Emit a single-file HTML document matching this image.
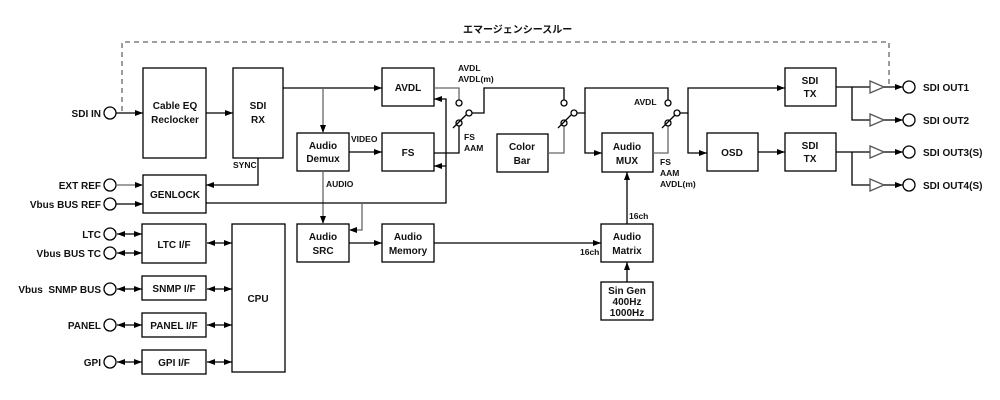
<!DOCTYPE html>
<html><head><meta charset="utf-8"><style>
html,body{margin:0;padding:0;background:#fff;}
svg{display:block;}
text{font-family:"Liberation Sans","Noto Sans CJK JP",sans-serif;font-size:10px;font-weight:bold;fill:#111;}
.s{font-size:8.5px;}
</style></head><body>
<svg width="1000" height="400" viewBox="0 0 1000 400" xmlns="http://www.w3.org/2000/svg">
<defs>
<marker id="a" markerWidth="8" markerHeight="6" refX="8" refY="3" orient="auto" markerUnits="userSpaceOnUse"><path d="M0,0 L8,3 L0,6 z" fill="#000"/></marker>
<marker id="b" markerWidth="8" markerHeight="6" refX="0" refY="3" orient="auto" markerUnits="userSpaceOnUse"><path d="M8,0 L0,3 L8,6 z" fill="#000"/></marker>
</defs>
<g fill="none" stroke="#000" stroke-width="1.3">
<path d="M122,111 V42 H889 V84" stroke="#666" stroke-dasharray="5,4"/>
<rect x="143" y="68" width="63" height="90"/>
<rect x="233" y="68" width="50" height="90"/>
<rect x="382" y="68" width="52" height="38"/>
<rect x="297" y="133" width="52" height="38"/>
<rect x="382" y="133" width="52" height="38"/>
<rect x="143" y="175" width="63" height="38"/>
<rect x="497" y="134" width="51" height="38"/>
<rect x="602" y="133" width="51" height="39"/>
<rect x="707" y="133" width="51" height="38"/>
<rect x="785" y="68" width="51" height="38"/>
<rect x="785" y="133" width="51" height="38"/>
<rect x="142" y="224" width="64" height="39"/>
<rect x="142" y="276" width="64" height="24"/>
<rect x="142" y="313" width="64" height="24"/>
<rect x="142" y="350" width="64" height="24"/>
<rect x="232" y="224" width="53" height="148"/>
<rect x="297" y="224" width="52" height="38"/>
<rect x="382" y="224" width="52" height="38"/>
<rect x="601" y="224" width="52" height="38"/>
<rect x="601" y="282" width="52" height="38"/>
<circle cx="110" cy="113" r="6"/>
<circle cx="110" cy="185" r="6"/>
<circle cx="110" cy="204" r="6"/>
<circle cx="110" cy="234" r="6"/>
<circle cx="110" cy="253" r="6"/>
<circle cx="110" cy="289" r="6"/>
<circle cx="110" cy="325" r="6"/>
<circle cx="110" cy="362" r="6"/>
<circle cx="909" cy="87" r="6"/>
<circle cx="909" cy="120" r="6"/>
<circle cx="909" cy="152" r="6"/>
<circle cx="909" cy="185" r="6"/>
<path d="M116,113 H143" marker-end="url(#a)"/>
<path d="M206,113 H233" marker-end="url(#a)"/>
<path d="M283,88 H382" marker-end="url(#a)"/>
<path d="M323,88 V133" stroke="#666" marker-end="url(#a)"/>
<path d="M323,171 V224" stroke="#666" marker-end="url(#a)"/>
<path d="M349,152 H382" marker-end="url(#a)"/>
<path d="M258,158 V185 H206" marker-end="url(#a)"/>
<path d="M116,185 H143" stroke="#666" marker-end="url(#a)"/>
<path d="M116,204 H143" marker-end="url(#a)"/>
<path d="M206,203 H446 V99 H434" marker-end="url(#a)"/>
<path d="M446,166 H434" marker-end="url(#a)"/>
<path d="M362,203 V230 H349" stroke="#666" marker-end="url(#a)"/>
<path d="M434,88 H459 V100" stroke="#666"/>
<path d="M434,153 H459 V126" />
<circle cx="459" cy="103" r="3"/><circle cx="469" cy="113" r="3"/><circle cx="459" cy="123" r="3"/>
<path d="M453,128 L466,115"/>
<path d="M472,113 H484 V88 H564 V100"/>
<path d="M548,153 H564 V126" stroke="#666"/>
<circle cx="564" cy="103" r="3"/><circle cx="574" cy="113" r="3"/><circle cx="564" cy="123" r="3"/>
<path d="M558,128 L571,115"/>
<path d="M577,113 H585 V88 H668 V100"/>
<path d="M585,113 V153 H602" marker-end="url(#a)"/>
<path d="M653,153 H668 V126" stroke="#666"/>
<circle cx="668" cy="103" r="3"/><circle cx="677" cy="113" r="3"/><circle cx="668" cy="123" r="3"/>
<path d="M662,128 L675,115"/>
<path d="M680,113 H688 V88 H785" marker-end="url(#a)"/>
<path d="M688,113 V153 H707" marker-end="url(#a)"/>
<path d="M758,152 H785" marker-end="url(#a)"/>
<path d="M836,87 H870 M852,87 V120 H870" />
<path d="M836,152 H870 M852,152 V185 H870" />
<path d="M870,81 L884,87 L870,93 z M870,114 L884,120 L870,126 z M870,146 L884,152 L870,158 z M870,179 L884,185 L870,191 z" stroke="#555"/>
<path d="M884,87 H903" marker-end="url(#a)"/>
<path d="M884,120 H903" marker-end="url(#a)"/>
<path d="M884,152 H903" marker-end="url(#a)"/>
<path d="M884,185 H903" marker-end="url(#a)"/>
<path d="M349,243 H382" marker-end="url(#a)"/>
<path d="M434,243 H601" marker-end="url(#a)"/>
<path d="M627,224 V172" marker-end="url(#a)"/>
<path d="M627,282 V262" marker-end="url(#a)"/>
<path d="M117,234 H142" marker-start="url(#b)" marker-end="url(#a)"/>
<path d="M117,253 H142" marker-start="url(#b)" marker-end="url(#a)"/>
<path d="M117,289 H142" marker-start="url(#b)" marker-end="url(#a)"/>
<path d="M117,325 H142" marker-start="url(#b)" marker-end="url(#a)"/>
<path d="M117,362 H142" marker-start="url(#b)" marker-end="url(#a)"/>
<path d="M207,243 H232" marker-start="url(#b)" marker-end="url(#a)"/>
<path d="M207,289 H232" marker-start="url(#b)" marker-end="url(#a)"/>
<path d="M207,325 H232" marker-start="url(#b)" marker-end="url(#a)"/>
<path d="M207,362 H232" marker-start="url(#b)" marker-end="url(#a)"/>
</g>
<g text-anchor="middle">
<text x="175" y="109">Cable EQ</text><text x="175" y="123">Reclocker</text>
<text x="258" y="109">SDI</text><text x="258" y="123">RX</text>
<text x="408" y="91">AVDL</text>
<text x="323" y="149">Audio</text><text x="323" y="162">Demux</text>
<text x="408" y="156">FS</text>
<text x="175" y="198">GENLOCK</text>
<text x="522" y="150">Color</text><text x="522" y="164">Bar</text>
<text x="627" y="150">Audio</text><text x="627" y="164">MUX</text>
<text x="732" y="156">OSD</text>
<text x="810" y="84">SDI</text><text x="810" y="97">TX</text>
<text x="810" y="149">SDI</text><text x="810" y="162">TX</text>
<text x="174" y="248">LTC I/F</text>
<text x="174" y="292">SNMP I/F</text>
<text x="174" y="329">PANEL I/F</text>
<text x="174" y="366">GPI I/F</text>
<text x="258" y="302">CPU</text>
<text x="323" y="240">Audio</text><text x="323" y="254">SRC</text>
<text x="408" y="240">Audio</text><text x="408" y="254">Memory</text>
<text x="627" y="240">Audio</text><text x="627" y="254">Matrix</text>
<text x="627" y="294">Sin Gen</text><text x="627" y="305">400Hz</text><text x="627" y="316">1000Hz</text>
</g>
<g text-anchor="end">
<text x="101" y="117">SDI IN</text>
<text x="101" y="189">EXT REF</text>
<text x="101" y="208">Vbus BUS REF</text>
<text x="101" y="238">LTC</text>
<text x="101" y="257">Vbus BUS TC</text>
<text x="101" y="293">Vbus&#160;&#160;SNMP BUS</text>
<text x="101" y="329">PANEL</text>
<text x="101" y="366">GPI</text>
</g>
<text x="463" y="33">エマージェンシースルー</text>
<text class="s" x="233" y="168">SYNC</text>
<text class="s" x="351" y="142">VIDEO</text>
<text class="s" x="326" y="187">AUDIO</text>
<text class="s" x="458" y="71">AVDL</text><text class="s" x="458" y="82">AVDL(m)</text>
<text class="s" x="464" y="140">FS</text><text class="s" x="464" y="151">AAM</text>
<text class="s" x="634" y="105">AVDL</text>
<text class="s" x="660" y="165">FS</text><text class="s" x="660" y="176">AAM</text><text class="s" x="660" y="187">AVDL(m)</text>
<text class="s" x="629" y="219">16ch</text>
<text class="s" x="580" y="255">16ch</text>
<text x="923" y="91">SDI OUT1</text>
<text x="923" y="124">SDI OUT2</text>
<text x="923" y="156">SDI OUT3(S)</text>
<text x="923" y="189">SDI OUT4(S)</text>
</svg>
</body></html>
